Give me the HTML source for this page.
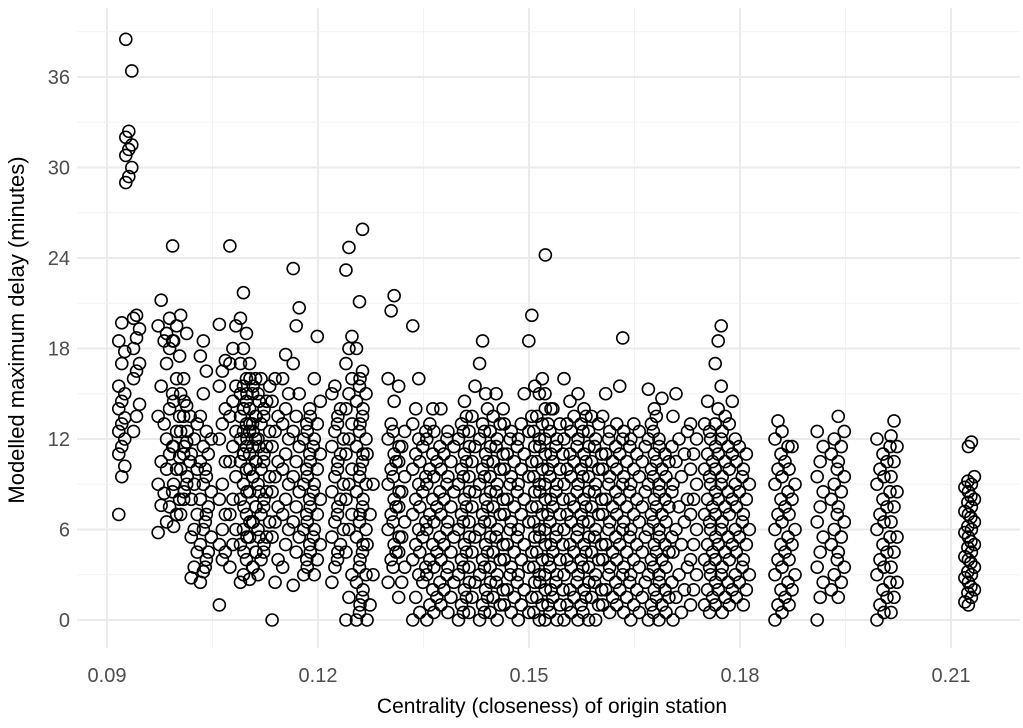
<!DOCTYPE html>
<html><head><meta charset="utf-8"><style>
html,body{margin:0;padding:0;background:#fff;}
svg text{font-family:"Liberation Sans",sans-serif;}
</style></head><body>
<svg id="chart" width="1023" height="723" viewBox="0 0 1023 723" xmlns="http://www.w3.org/2000/svg">
<g id="grid"></g>
<g id="axes"></g>
<g id="points"></g>
<text x="552" y="713" text-anchor="middle" font-size="21" fill="#000">Centrality (closeness) of origin station</text>
<text transform="translate(24,330) rotate(-90)" text-anchor="middle" font-size="22" fill="#000">Modelled maximum delay (minutes)</text>
</svg>
<script>
const xTicks=[0.09,0.12,0.15,0.18,0.21];
const xTickLabels=["0.09","0.12","0.15","0.18","0.21"];
const yTicks=[0,6,12,18,24,30,36];
const yTickLabels=["0","6","12","18","24","30","36"];
const colX=[0.0921,0.0931,0.0942,0.0977,0.0989,0.0999,0.1009,0.1024,0.1037,0.1064,0.1079,0.1094,0.1107,0.1119,0.1139,0.1154,0.1169,0.1184,0.1199,0.1224,0.1244,0.1259,0.1274,0.1304,0.1319,0.1339,0.1359,0.1379,0.1404,0.1419,0.1434,0.1449,0.1469,0.1489,0.1504,0.1519,0.1534,0.1554,0.1574,0.1589,0.1609,0.1629,0.1649,0.1674,0.1689,0.1709,0.1734,0.1754,0.1769,0.1789,0.1809,0.1854,0.1874,0.1914,0.1944,0.1999,0.2019,0.2129];
const colY=[
[7,9.5,10.2,11,11.5,12,12.5,13,13.4,14,14.5,15,15.5,17,17.8,18.5,19.7],
[29,29.4,30,30.8,31.2,31.5,32,32.4,36.4,38.5],
[12.5,13.5,14.3,16,16.5,17,18,18.7,19.3,20,20.2],
[5.8,7.6,8.4,9,10.5,13,13.5,15.5,18.5,19.5,21.2],
[6.5,7.5,8.5,10,11,11.5,12,14,15,17,18,18.5,19,20,24.8],
[6.2,7,8,9,10,10.8,11.5,12.5,13.5,14.5,16,17.5,18.5,19.5],
[7,8,9,10,11,11.8,12.5,13.5,14.2,15,16,19,20.2],
[2.8,3.5,4.5,5.5,6,7,8,9,10,11,12,13],
[2.5,3.2,4,5,6,7,8,9,9.5,10.5,11.5,12.5,13.5,15,16.5,17.5,18.5],
[1,4,4.5,5,6,7,8,9,10.5,12,13,14,15.5,16.5,17.2,19.6],
[3.5,5,6,7,8,9.5,10.5,11.5,12.5,13.5,14.5,15.5,17,18,19.5,24.8],
[2.5,3,4,5,6,7,8,9,10,10.5,11,11.5,12,12.5,13,13.5,14,14.5,15,15.5,16,17,18,19,20,21.7],
[2.7,3.5,4.5,5.5,6.5,7.5,8.5,9.5,10.5,11,11.5,12,12.5,13,13.5,14,15,16,17],
[3,4,5,6,7,8,9,10,11,12,13,14,15,16],
[0,2.5,4,5.5,6.5,7.5,8.5,9.5,10.5,11.5,12.5,13.5,14.5,16],
[3.5,5,6,7,8,9,10,11,12,13,14,15,16,17.6],
[2.3,4.5,5.5,6.5,7.5,8.5,9.5,10.5,11.5,12.5,13.5,15,17,19.5,20.7,23.3],
[3,4,5,6,7,8,9,10,11,12,13,14],
[3,4,5,6,7,8,9,10,11,12,13,14.5,16,18.8],
[2.5,3.5,4.5,5.5,6.5,7.5,8.5,9.5,10.5,11.5,12.5,13.5,15,15.5],
[0,1.5,3,4.5,6,7,8,9,10,11,12,13,14,15,16,17,18,18.8,23.2,24.7],
[0,0.5,1.5,2.5,3.5,4.5,5.5,6.5,7.5,8.5,9.5,10.5,11.5,12.5,13.5,14.5,15.5,16.5,18,21.1,25.9],
[0,1,3,5,7,9,11],
[2.5,4,5,6,7,8,9,10,11,12,13,14.5,16,20.5,21.5],
[1.5,2.5,3.5,4.5,5.5,6.5,7.5,8.5,9.5,10.5,11.5,12.5,15.5],
[0,1.5,3,4,5,6,7,8,9,10,11,12,13,14,16,19.5],
[0,1,2,3,4,5,6,7,8,9,10,11,12,13,14],
[1,2,3,4,5,6,7,8,9,10,11,12,14],
[0,1,2,3,4,5,6,7,8,9,10,11,12,13,14.5],
[0.5,1.5,2.5,3.5,4.5,5.5,6.5,7.5,8.5,9.5,10.5,11.5,12.5,13.5,15.5],
[0,1,2,3,4,5,6,7,8,9,10,11,12,13,15,17,18.5],
[0.5,1.5,2.5,3.5,4.5,5.5,6.5,7.5,8.5,9.5,10.5,11.5,12.5,13.5,15],
[1,2,3,4,5,6,7,8,9,10,11,12,13],
[0,1,2,3,4,5,6,7,8,9,10,11,12,13,15],
[0.5,1.5,2.5,3.5,4.5,5.5,6.5,7.5,8.5,9.5,10.5,11.5,12.5,13.5,15.5,18.5,20.2],
[0,1,2,3,4,5,6,7,8,9,10,11,12,13,14,15,16,24.2],
[0.5,1.5,2.5,3.5,4.5,5.5,6.5,7.5,8.5,9.5,10.5,11.5,12.5,14],
[0,1,2,3,4,5,6,7,8,9,10,11,12,13,14.5,16],
[0,1,2,3,4,5,6,7,8,9,10,11,12,13,14,15],
[0,1.5,2.5,3.5,4.5,5.5,6.5,7.5,8.5,9.5,10.5,11.5,12.5,13.5],
[1,2,3,4,5,6,7,8,9,10,11,12,13.5,15],
[1,2,3,4,5,6,7,8,9,10,11,12,13,15.5,18.7],
[0,1,2,3,4,5,6,7,8,9,10,11,12,13],
[0,1,2,3,4,5,6,7,8,9,10,11,12,13,14,15.3],
[0,1,2,3,4,5,6,7,8,9,10,11,12,14.7],
[0,1.5,3,4.5,6,7.5,9,10.5,12,13.5,15],
[1,2,3,4,5,6,7,8,9,10,11,12,13],
[1,2,3,4,5,6,7,8,9,10,11,12,13,14.5],
[1,2,3,4,5,6,7,8,9,10,11,12,13,14,15.5,17,18.5,19.5],
[1,2,3,4,5,6,7,8,9,10,11,12,13,14.5],
[1,2,3,4,5,6,7,8,9,10,11],
[0,1,2,3,4,5,6,7,8,9,10,11,12,13.2],
[1,2,3,4,5,6,7,8,9,10,11.5],
[0,1.5,2.5,3.5,4.5,5.5,6.5,7.5,8.5,9.5,10.5,11.5,12.5],
[1.5,2.5,3.5,4.5,5.5,6.5,7.5,8.5,9.5,10.5,11.5,12.5,13.5],
[0,1,2,3,4,5,6,7,8,9,10,11,12],
[0.5,1.5,2.5,3.5,4.5,5.5,6.5,7.5,8.5,9.5,10.5,11.5,12.2,13.2],
[1,1.5,2,2.5,3,3.5,4,4.5,5,5.5,6,6.5,7,7.5,8,8.5,9,9.5,11.5,11.8]
];
// additional stations filling the dense central band
const colX2=[0.1014,0.1044,0.1099,0.1112,0.1127,0.1189,0.1232,0.1264,0.1311,0.1349,0.1369,0.1389,0.1411,0.1441,0.1459,0.1479,0.1511,0.1527,0.1544,0.1564,0.1581,0.1599,0.1619,0.1639,0.1661,0.1681,0.1699,0.1721,0.1761,0.1779,0.1799,0.1864,0.1934,0.2009,0.2124];
const colY2=[
[8.5,9.5,10.5,11.5,12.5,13.5,14.5],
[3.5,4.5,5.5,6.5,7.5,8.5,10,11,12],
[4.5,5.5,6.5,7.5,8.5,10,11,12,13,14,15,16],
[3.5,4.5,5.5,6.5,7.5,8.5,9.5,10.5,11.5,12.5,13.5,14.5,15.5],
[4.5,5.5,6.5,7.5,8.5,9.5,10.5,11.5,12.5,13.5,14.5,15.5],
[3.5,4.5,5.5,6.5,7.5,8.5,9.5,10.5,11.5,12.5,13.5],
[4,5,6,7,8,9,10,11,12,13,14],
[1,2,3,4,5,6,7,8,9,10,11,12,13,14,15,16],
[3.5,4.5,5.5,6.5,7.5,8.5,9.5,10.5,11.5,12.5],
[0.5,2.5,3.5,4.5,5.5,6.5,7.5,8.5,9.5,10.5,11.5,12.5],
[0.5,1.5,2.5,3.5,4.5,5.5,6.5,7.5,8.5,9.5,10.5,11.5,12.5],
[0.5,1.5,2.5,3.5,4.5,5.5,6.5,7.5,8.5,9.5,10.5,11.5,12.5],
[0.5,1.5,2.5,3.5,4.5,5.5,6.5,7.5,8.5,9.5,10.5,11.5,12.5,13.5],
[0.5,1.5,2.5,3.5,4.5,5.5,6.5,7.5,8.5,9.5,10.5,11.5,12.5,14],
[0,1,2,3,4,5,6,7,8,9,10,11,12,13,14],
[0.5,1.5,2.5,3.5,4.5,5.5,6.5,7.5,8.5,9.5,10.5,11.5,12.5],
[0.5,1.5,2.5,3.5,4.5,5.5,6.5,7.5,8.5,9.5,10.5,11.5,12.5,13.5],
[0,1,2,3,4,5,6,7,8,9,10,11,12,13,14,15],
[0,1,2,3,4,5,6,7,8,9,10,11,12,13],
[0.5,1.5,2.5,3.5,4.5,5.5,6.5,7.5,8.5,9.5,10.5,11.5,12.5,13.5],
[0.5,1.5,2.5,3.5,4.5,5.5,6.5,7.5,8.5,9.5,10.5,11.5,12.5,13.5],
[0,1,2,3,4,5,6,7,8,9,10,11,12,13],
[0.5,1.5,2.5,3.5,4.5,5.5,6.5,7.5,8.5,9.5,10.5,11.5,12.5],
[0.5,1.5,2.5,3.5,4.5,5.5,6.5,7.5,8.5,9.5,10.5,11.5,12.5],
[0.5,1.5,2.5,3.5,4.5,5.5,6.5,7.5,8.5,9.5,10.5,11.5,12.5],
[0.5,1.5,2.5,3.5,4.5,5.5,6.5,7.5,8.5,9.5,10.5,11.5,12.5,13.5],
[0.5,1.5,2.5,3.5,4.5,5.5,6.5,7.5,8.5,9.5,10.5,11.5],
[0.5,2,3.5,5,6.5,8,9.5,11,12.5],
[0.5,1.5,2.5,3.5,4.5,5.5,6.5,7.5,8.5,9.5,10.5,11.5,12.5],
[0.5,1.5,2.5,3.5,4.5,5.5,6.5,7.5,8.5,9.5,10.5,11.5,12.5,13.5],
[1.5,2.5,3.5,4.5,5.5,6.5,7.5,8.5,9.5,10.5,11.5],
[0.5,1.5,2.5,3.5,4.5,5.5,6.5,7.5,8.5,9.5,10.5,11.5,12.5],
[2,3,4,5,6,7,8,9,10,11,12],
[0.5,1.5,2.5,3.5,4.5,5.5,6.5,7.5,8.5,9.5,10.5,11.5],
[1.2,1.8,2.2,2.8,3.2,3.8,4.2,4.8,5.2,5.8,6.2,6.8,7.2,7.8,8.2,8.8,9.2]
];
const NS="http://www.w3.org/2000/svg";
const L=77,R=1020,T=8,B=648;
function xs(v){return 107+(v-0.09)*(211/0.03);}
function ys(v){return 620-v*(90.5/6);}
function mk(tag,attrs,parent){const e=document.createElementNS(NS,tag);for(const k in attrs)e.setAttribute(k,attrs[k]);parent.appendChild(e);return e;}
const grid=document.getElementById('grid'),axes=document.getElementById('axes'),pts=document.getElementById('points');
for(let i=0;i<xTicks.length;i++){
  const x=xs(xTicks[i]);
  const g=mk('line',{x1:x,x2:x,y1:T,y2:B,stroke:'#ebebeb','stroke-width':2},grid);
  
  
  const m=xs(xTicks[i]+0.015);
  if(m<R){const mg=mk('line',{x1:m,x2:m,y1:T,y2:B,stroke:'#f2f2f2','stroke-width':1},grid);
  
  }
  const t=mk('text',{x:x,y:682,'text-anchor':'middle','font-size':20,fill:'#4d4d4d'},axes);
  t.textContent=xTickLabels[i];
  
  
}
for(let i=0;i<yTicks.length;i++){
  const y=ys(yTicks[i]);
  const g=mk('line',{x1:L,x2:R,y1:y,y2:y,stroke:'#ebebeb','stroke-width':2},grid);
  
  
  const m=ys(yTicks[i]+3);
  if(m>T){const mg=mk('line',{x1:L,x2:R,y1:m,y2:m,stroke:'#f2f2f2','stroke-width':1},grid);
  
  }
  const t=mk('text',{x:70,y:y+7,'text-anchor':'end','font-size':20,fill:'#4d4d4d'},axes);
  t.textContent=yTickLabels[i];
  
  
}
function drawCols(xArr,yArr){
  for(let c=0;c<xArr.length;c++){
    for(let i=0;i<yArr[c].length;i++){
      const off=((i%3)-1)*3;
      const p=mk('circle',{cx:xs(xArr[c])+off,cy:ys(yArr[c][i]),r:6,fill:'none',stroke:'#000','stroke-width':1.6},pts);
      
      
    }
  }
}
drawCols(colX,colY);
drawCols(colX2,colY2);
</script>
</body></html>
